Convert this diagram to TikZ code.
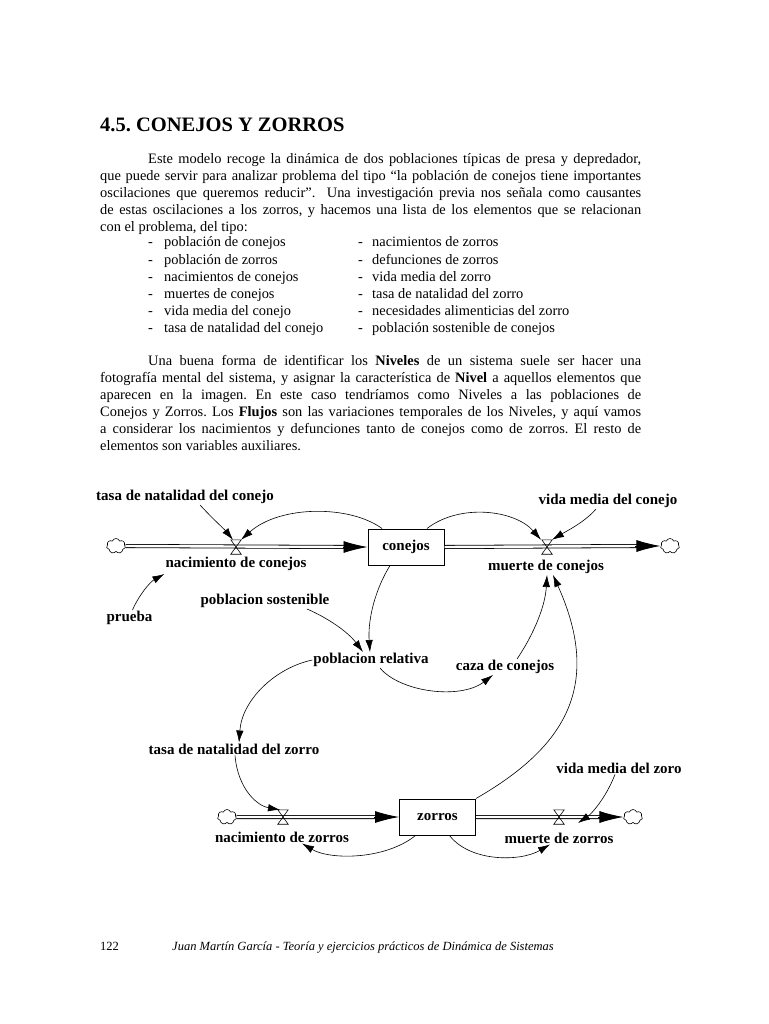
\documentclass[tikz,border=0pt]{standalone}
\usepackage{fontspec}
\setmainfont{Liberation Serif}
\usetikzlibrary{arrows.meta,shapes.symbols}
\newcommand{\bodyfont}{\fontsize{14.4}{17}\selectfont}
\newcommand{\diafont}{\fontsize{15}{17}\selectfont\bfseries}
\frenchspacing
\begin{document}
\begin{tikzpicture}[x=1pt,y=-1pt,
  lbl/.style={font=\diafont, inner sep=1pt},
  stock/.style={draw, line width=1pt, minimum width=76pt, minimum height=36pt, inner sep=0pt, font=\diafont},
  valve/.style={minimum width=10pt, minimum height=14pt, inner sep=0pt},
  cloudy/.style={cloud, cloud puffs=7, cloud puff arc=140, draw, line width=0.6pt, minimum width=19pt, minimum height=15pt, inner sep=0pt},
  pipe/.style={draw=black, double=white, double distance=2.4pt, line width=0.8pt},
  pipehead/.style={-{Latex[length=24pt,width=12pt]}, line width=0.8pt},
  link/.style={-{Latex[length=12pt,width=7.5pt]}, line width=0.6pt},
  txt/.style={anchor=base west, inner sep=0pt, font=\bodyfont},
]
\useasboundingbox[fill=white] (0,0) rectangle (768,1024);

% ---------- text ----------
\node[anchor=base west, inner sep=0pt, font=\fontsize{20.5}{24}\selectfont\bfseries] (title) at (100,132) {4.5. CONEJOS Y ZORROS};

\node[txt] (p1) at (100,164) {\parbox[t]{541pt}{\bodyfont\tolerance=10000\hyphenpenalty=10000\hspace*{48pt}Este modelo recoge la dinámica de dos poblaciones típicas de presa y depredador,\linebreak que puede servir para analizar problema del tipo “la población de conejos tiene importantes\linebreak oscilaciones que queremos reducir”.\ \ Una investigación previa nos señala como causantes\linebreak de estas oscilaciones a los zorros, y hacemos una lista de los elementos que se relacionan\linebreak con el problema, del tipo:}};

\node[txt] (d1) at (148,247) {-};  \node[txt] (i1) at (164,247) {población de conejos};
\node[txt] (d2) at (148,264) {-};  \node[txt] (i2) at (164,264) {población de zorros};
\node[txt] (d3) at (148,281) {-};  \node[txt] (i3) at (164,281) {nacimientos de conejos};
\node[txt] (d4) at (148,298) {-};  \node[txt] (i4) at (164,298) {muertes de conejos};
\node[txt] (d5) at (148,315) {-};  \node[txt] (i5) at (164,315) {vida media del conejo};
\node[txt] (d6) at (148,332) {-};  \node[txt] (i6) at (164,332) {tasa de natalidad del conejo};
\node[txt] (e1) at (358,247) {-};  \node[txt] (j1) at (372,247) {nacimientos de zorros};
\node[txt] (e2) at (358,264) {-};  \node[txt] (j2) at (372,264) {defunciones de zorros};
\node[txt] (e3) at (358,281) {-};  \node[txt] (j3) at (372,281) {vida media del zorro};
\node[txt] (e4) at (358,298) {-};  \node[txt] (j4) at (372,298) {tasa de natalidad del zorro};
\node[txt] (e5) at (358,315) {-};  \node[txt] (j5) at (372,315) {necesidades alimenticias del zorro};
\node[txt] (e6) at (358,332) {-};  \node[txt] (j6) at (372,332) {población sostenible de conejos};

\node[txt] (p2) at (100,365) {\parbox[t]{541pt}{\bodyfont\tolerance=10000\hyphenpenalty=10000\hspace*{48pt}Una buena forma de identificar los \textbf{Niveles} de un sistema suele ser hacer una\linebreak fotografía mental del sistema, y asignar la característica de \textbf{Nivel} a aquellos elementos que\linebreak aparecen en la imagen. En este caso tendríamos como Niveles a las poblaciones de\linebreak Conejos y Zorros. Los \textbf{Flujos} son las variaciones temporales de los Niveles, y aquí vamos\linebreak a considerar los nacimientos y defunciones tanto de conejos como de zorros. El resto de\linebreak elementos son variables auxiliares.}};

\node[anchor=base west, inner sep=0pt, font=\fontsize{12.5}{15}\selectfont] (pg) at (100,950) {122};
\node[anchor=base west, inner sep=0pt, font=\fontsize{12.5}{15}\selectfont\itshape] (foot) at (172,950) {Juan Martín García - Teoría y ejercicios prácticos de Dinámica de Sistemas};

% ---------- diagram nodes ----------
\node[stock] (conejos) at (406,547) {conejos};
\node[stock] (zorros) at (437.5,817) {zorros};
\node[cloudy] (c1) at (116,546) {};
\node[cloudy] (c2) at (670,546) {};
\node[cloudy] (c3) at (227,817) {};
\node[cloudy] (c4) at (633,817) {};
\node[valve] (v1) at (236,547) {};
\node[valve] (v2) at (547,547) {};
\node[valve] (v3) at (283,817) {};
\node[valve] (v4) at (559,817) {};

\node[lbl] (tnc) at (185,497) {tasa de natalidad del conejo};
\node[lbl] (nc) at (236,564) {nacimiento de conejos};
\node[lbl] (vmc) at (608,501) {vida media del conejo};
\node[lbl] (mc) at (546,567) {muerte de conejos};
\node[lbl] (prueba) at (129.5,618) {prueba};
\node[lbl] (ps) at (265,601) {poblacion sostenible};
\node[lbl] (pr) at (371,660) {poblacion relativa};
\node[lbl] (cc) at (505,667) {caza de conejos};
\node[lbl] (tnz) at (234,749) {tasa de natalidad del zorro};
\node[lbl] (nz) at (282,837) {nacimiento de zorros};
\node[lbl] (mz) at (559,838) {muerte de zorros};
\node[lbl] (vmz) at (619,768) {vida media del zoro};

% ---------- pipes ----------
\draw[pipe] (c1.east) -- ([xshift=-22pt]conejos.west);
\draw[pipehead] ([xshift=-25pt]conejos.west) -- (conejos.west);
\draw[pipe] (conejos.east) -- ([xshift=-22pt]c2.west);
\draw[pipehead] ([xshift=-25pt]c2.west) -- (c2.west);
\draw[pipe] (c3.east) -- ([xshift=-22pt]zorros.west);
\draw[pipehead] ([xshift=-25pt]zorros.west) -- (zorros.west);
\draw[pipe] (zorros.east) -- ([xshift=-22pt]c4.west);
\draw[pipehead] ([xshift=-25pt]c4.west) -- (c4.west);

\foreach \v in {v1,v2,v3,v4}{
  \draw[line width=0.6pt] (\v.north west) -- (\v.north east) -- (\v.south west) -- (\v.south east) -- cycle;
}

% ---------- causal links ----------
\draw[link] ([xshift=15pt]tnc.south) .. controls (212,518) and (225,530) .. ([xshift=-3pt]v1.north);
\draw[link] ([xshift=-24pt]conejos.north) .. controls (350,505) and (280,505) .. ([xshift=5pt]v1.north);
\draw[link] ([xshift=21pt]conejos.north) .. controls (460,503) and (515,510) .. ([xshift=-6pt]v2.north);
\draw[link] ([xshift=-12pt]vmc.south) .. controls (585,522) and (565,532) .. ([xshift=5pt]v2.north);
\draw[link] ([xshift=3pt]prueba.north) .. controls (139,595) and (150,582) .. ([yshift=-2pt]nc.south west);
\draw[link] ([xshift=42pt]ps.south) .. controls (328,618) and (348,632) .. ([xshift=-8pt]pr.north);
\draw[link] ([xshift=-16pt]conejos.south) .. controls (372,595) and (368,625) .. ([xshift=-1pt]pr.north);
\draw[link] ([xshift=9pt]pr.south) .. controls (400,692) and (460,700) .. ([xshift=-12pt]cc.south);
\draw[link] ([xshift=12pt]cc.north) .. controls (530,640) and (545,610) .. ([xshift=1pt]mc.south);
\draw[link] (zorros.north east) .. controls (560,750) and (605,690) .. ([xshift=7pt]mc.south);
\draw[link] (pr.west) .. controls (275,668) and (242,700) .. ([xshift=5pt]tnz.north);
\draw[link] ([xshift=1pt]tnz.south) .. controls (238,790) and (258,806) .. ([xshift=-3pt]v3.north);
\draw[link] ([xshift=-22pt]zorros.south) .. controls (385,860) and (330,860) .. ([xshift=20pt]nz.south);
\draw[link] ([xshift=12pt]zorros.south) .. controls (470,862) and (520,862) .. ([xshift=-9pt]mz.south);
\draw[link] ([xshift=-4pt]vmz.south) .. controls (605,800) and (590,815) .. ([xshift=19pt,yshift=-6pt]v4.center);
\end{tikzpicture}
\end{document}
